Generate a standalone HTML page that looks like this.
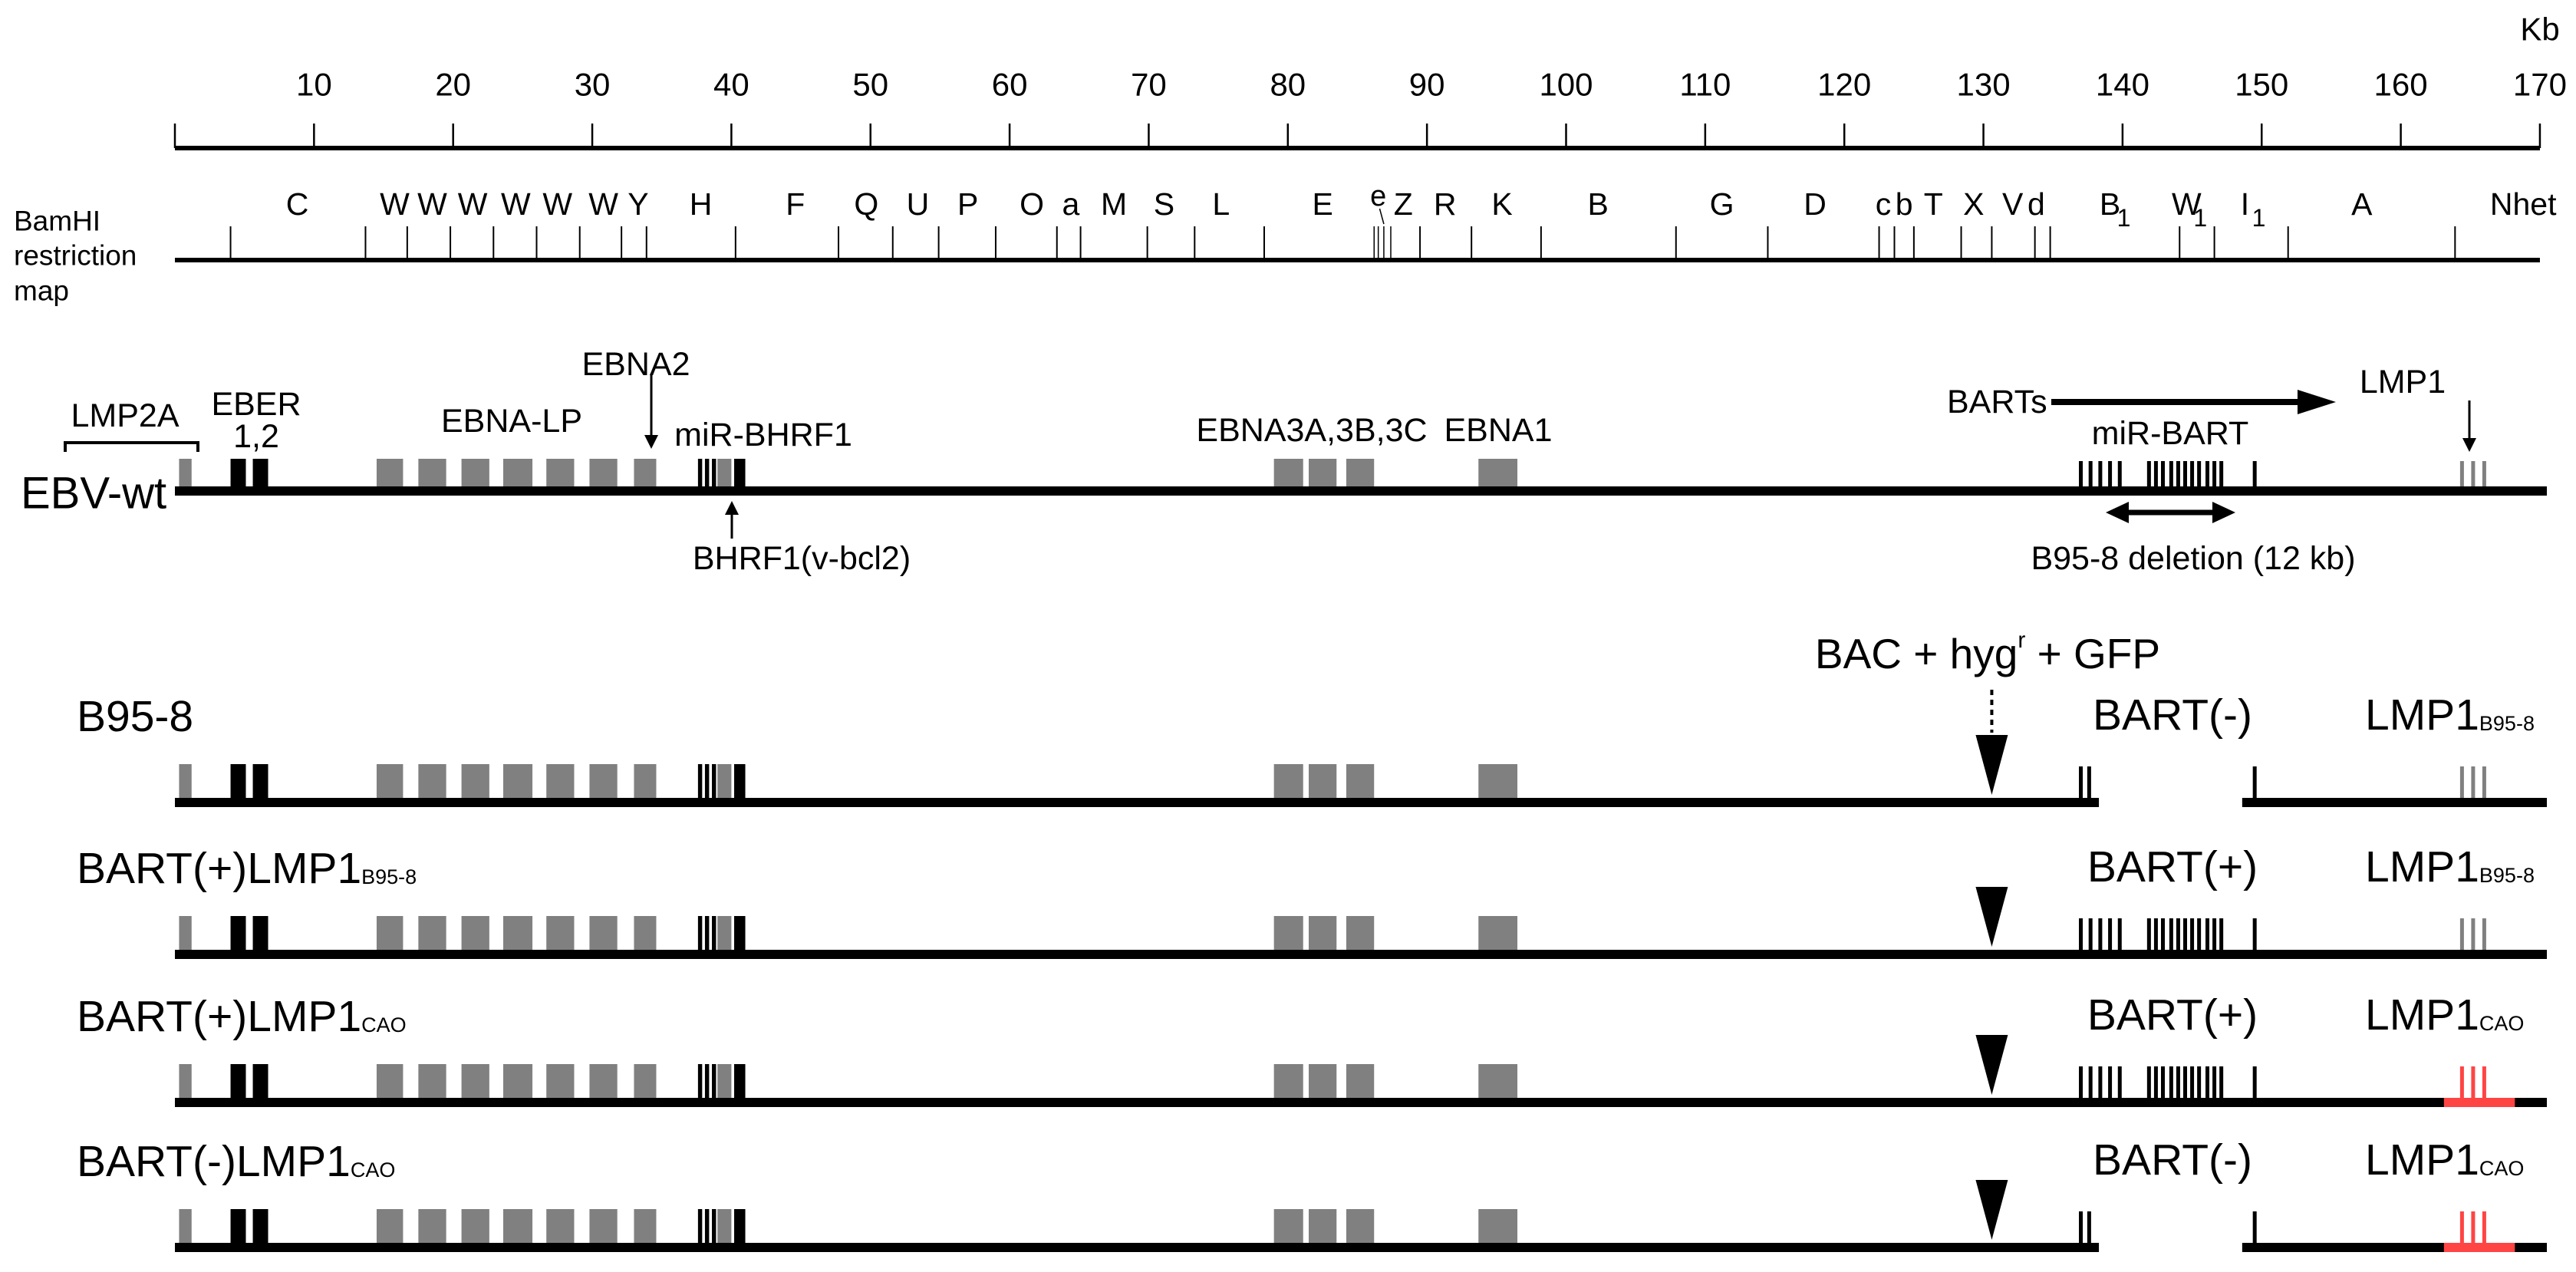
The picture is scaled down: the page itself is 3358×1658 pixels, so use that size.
<!DOCTYPE html>
<html><head><meta charset="utf-8"><style>
html,body{margin:0;padding:0;background:#fff}
svg{display:block}
text{font-family:"Liberation Sans",Arial,sans-serif;fill:#000}
</style></head><body>
<svg id="fig" width="3358" height="1658" viewBox="0 0 3358 1658" xmlns="http://www.w3.org/2000/svg">
<defs>
<marker id="ah" markerWidth="6" markerHeight="6" refX="5" refY="3" orient="auto" markerUnits="strokeWidth"><path d="M0,0 L6,3 L0,6 z" fill="#000"/></marker>
</defs>
</svg>
<script>
// ---- data (kb) ----
const axisTicks=[0,10,20,30,40,50,60,70,80,90,100,110,120,130,140,150,160,170];
const axisLabels=["","10","20","30","40","50","60","70","80","90","100","110","120","130","140","150","160","170"];
const bamCuts=[4.0,13.7,16.7,19.8,22.9,26.0,29.1,32.1,33.9,40.3,47.7,51.6,54.9,59.0,63.4,65.1,69.9,73.3,78.3,86.2,86.5,86.9,87.4,89.5,93.2,98.2,107.9,114.5,122.5,123.6,125.0,128.4,130.6,133.7,134.8,144.1,146.6,151.9,163.9];
const bamLetters=["C","W","W","W","W","W","W","Y","H","F","Q","U","P","O","a","M","S","L","E","Z","R","K","B","G","D","c","b","T","X","V","d","A","Nhet"];
const bamLetterPos=[8.8,15.8,18.5,21.4,24.5,27.5,30.8,33.3,37.8,44.6,49.7,53.4,57.0,61.6,64.4,67.5,71.1,75.2,82.5,88.3,91.3,95.4,102.3,111.2,117.9,122.8,124.3,126.4,129.3,132.1,133.8,157.2,168.8];
const subLetters=["B","W","I"];
const subLetterPos=[139.1,144.6,148.8];
const grayBoxStart=[0.3,14.5,17.5,20.6,23.6,26.7,29.8,33.0,39.0,79.0,81.5,84.2,93.7];
const grayBoxEnd=[1.2,16.4,19.5,22.6,25.7,28.7,31.8,34.6,40.0,81.1,83.5,86.2,96.5];
const blackBoxStart=[4.0,5.6,37.6,38.1,38.6,40.2];
const blackBoxEnd=[5.1,6.7,37.9,38.4,38.9,41.0];
const bartFull=[137.0,137.7,138.4,139.1,139.8,141.9,142.4,142.9,143.5,144.0,144.5,145.0,145.5,146.1,146.6,147.1,149.5];
const bartDeleted=[137.0,137.6,149.5];
const lmp1Lines=[164.4,165.2,166.0];
const rowNames=["B95-8","BART(+)LMP1","BART(+)LMP1","BART(-)LMP1"];
const rowSubs=["","B95-8","CAO","CAO"];
const rowBart=["BART(-)","BART(+)","BART(+)","BART(-)"];
const rowLmpSub=["B95-8","B95-8","CAO","CAO"];
const rowDeleted=[true,false,false,true];
const rowRed=[false,false,true,true];
const rowLineY=[1046,1244,1437,1626];
const gapStart=138.3, gapEnd=148.6, genomeEnd=170.5, bacPos=130.6;
const redStart=163.1, redEnd=168.2;

// ---- scales ----
const X=kb=>228+kb*18.135;
const svg=document.getElementById('fig');
const NS="http://www.w3.org/2000/svg";
function mk(tag,attrs,txt){const e=document.createElementNS(NS,tag);for(const k in attrs)e.setAttribute(k,attrs[k]);if(txt!==undefined)e.textContent=txt;svg.appendChild(e);return e;}
function T(x,y,s,size,anchor,name){const e=mk('text',{x:x,y:y,'font-size':size,'text-anchor':anchor||'middle','dominant-baseline':'central'},s);


return e;}

// ---- scale axis ----
let e=mk('line',{x1:X(0),y1:193,x2:X(170),y2:193,stroke:'#000','stroke-width':6});


axisTicks.forEach((t,i)=>{
  const l=mk('line',{x1:X(t),y1:161,x2:X(t),y2:193,stroke:'#000','stroke-width':2.5});
  
  
  if(axisLabels[i])T(X(t),110,axisLabels[i],42,'middle','axis-tick-label');
});
T(3311,38,"Kb",42,'middle','axis-unit-label');

// ---- BamHI map ----
T(18,288,"BamHI",37,'start','bamhi-label');
T(18,333,"restriction",37,'start','bamhi-label');
T(18,379,"map",37,'start','bamhi-label');
e=mk('line',{x1:X(0),y1:339,x2:X(170),y2:339,stroke:'#000','stroke-width':6});


bamCuts.forEach(c=>{
  const l=mk('line',{x1:X(c),y1:295,x2:X(c),y2:339,stroke:'#000','stroke-width':(c>86&&c<88)?1.5:2});
  
  
});
bamLetters.forEach((s,i)=>T(X(bamLetterPos[i]),266,s,41,'middle','bamhi-fragment-label'));
T(X(86.5),256,"e",38,'middle','bamhi-fragment-label');
e=mk('line',{x1:X(86.6),y1:272,x2:X(86.9),y2:292,stroke:'#000','stroke-width':1.5});


subLetters.forEach((s,i)=>{
  T(X(subLetterPos[i]),266,s,41,'middle','bamhi-fragment-label');
  T(X(subLetterPos[i])+18,284,"1",32,'middle','bamhi-subscript');
});

// ---- genome drawing ----
function genome(lineY,h,opts){
  const segs=opts.deleted?[[0,gapStart],[gapEnd,genomeEnd]]:[[0,genomeEnd]];
  segs.forEach(s=>{const r=mk('rect',{x:X(s[0]),y:lineY-6,width:X(s[1])-X(s[0]),height:12,fill:'#000'});
    
    });
  const top=lineY-6-h;
  grayBoxStart.forEach((s,i)=>{const r=mk('rect',{x:X(s),y:top,width:X(grayBoxEnd[i])-X(s),height:h,fill:'#808080'});
    
    });
  blackBoxStart.forEach((s,i)=>{const r=mk('rect',{x:X(s),y:top,width:X(blackBoxEnd[i])-X(s),height:h,fill:'#000'});
    
    });
  (opts.deleted?bartDeleted:bartFull).forEach(p=>{const r=mk('rect',{x:X(p)-2.5,y:top+3,width:5,height:h-3,fill:'#000'});
    
    });
  if(opts.red){const r=mk('rect',{x:X(redStart),y:lineY-6,width:X(redEnd)-X(redStart),height:12,fill:'#ff4444'});
    
    }
  lmp1Lines.forEach(p=>{const r=mk('rect',{x:X(p)-2.5,y:top+3,width:5,height:h-3,fill:opts.red?'#ff4444':'#808080'});
    
    });
}

// EBV-wt
genome(640,36,{deleted:false,red:false});
T(27,643,"EBV-wt",58,'start','ebv-wt-label');
e=mk('path',{d:`M85,589 L85,577 L258,577 L258,589`,stroke:'#000','stroke-width':4,fill:'none'});


T(163,542,"LMP2A",43,'middle','lmp2a-label');
T(334,527,"EBER",43,'middle','eber-label');
T(334,569,"1,2",43,'middle','eber-label');
T(667,549,"EBNA-LP",43,'middle','ebna-lp-label');
T(829,475,"EBNA2",43,'middle','ebna2-label');
e=mk('line',{x1:849,y1:487,x2:849,y2:582,stroke:'#000','stroke-width':3,'marker-end':'url(#ah)'});


T(995,567,"miR-BHRF1",43,'middle','mir-bhrf1-label');
e=mk('line',{x1:954,y1:702,x2:954,y2:656,stroke:'#000','stroke-width':3,'marker-end':'url(#ah)'});


T(1045,728,"BHRF1(v-bcl2)",43,'middle','bhrf1-label');
T(1710,561,"EBNA3A,3B,3C",43,'middle','ebna3-label');
T(1953,561,"EBNA1",43,'middle','ebna1-label');
T(2538,524,"BARTs",43,'start','barts-label');
e=mk('line',{x1:2674,y1:524,x2:3000,y2:524,stroke:'#000','stroke-width':8});


e=mk('path',{d:'M2995,508 L3045,524 L2995,540 z',fill:'#000'});


T(2829,565,"miR-BART",43,'middle','mir-bart-label');
T(3132,498,"LMP1",43,'middle','lmp1-label');
e=mk('line',{x1:3219,y1:522,x2:3219,y2:586,stroke:'#000','stroke-width':3,'marker-end':'url(#ah)'});


e=mk('line',{x1:2770,y1:668,x2:2890,y2:668,stroke:'#000','stroke-width':7});


e=mk('path',{d:'M2745,668 L2775,654 L2775,682 z M2914,668 L2884,654 L2884,682 z',fill:'#000'});


T(2859,728,"B95-8 deletion (12 kb)",43,'middle','b95-8-deletion-label');

// BAC insertion label
e=T(2591,852,"BAC + hyg",55,'middle','bac-label');
e.innerHTML='BAC + hyg<tspan font-size="30" dy="-18">r</tspan><tspan dy="18"> + GFP</tspan>';
e=mk('line',{x1:X(bacPos),y1:899,x2:X(bacPos),y2:955,stroke:'#000','stroke-width':4,'stroke-dasharray':'7,6'});



// construct rows
rowNames.forEach((n,i)=>{
  const ly=rowLineY[i];
  genome(ly,44,{deleted:rowDeleted[i],red:rowRed[i]});
  const lab=T(100,ly-112,n,57,'start','construct-label');
  if(rowSubs[i])lab.innerHTML=n+'<tspan font-size="27" dy="11">'+rowSubs[i]+'</tspan>';
  T(2832,ly-114,rowBart[i],57,'middle','bart-status-label');
  const l2=T(3083,ly-114,"LMP1",57,'start','lmp1-variant-label');
  l2.innerHTML='LMP1<tspan font-size="27" dy="11">'+rowLmpSub[i]+'</tspan>';
  const tri=mk('path',{d:`M${X(bacPos)-21},${ly-88} L${X(bacPos)+21},${ly-88} L${X(bacPos)},${ly-10} z`,fill:'#000'});
  
  
});
</script>
</body></html>
